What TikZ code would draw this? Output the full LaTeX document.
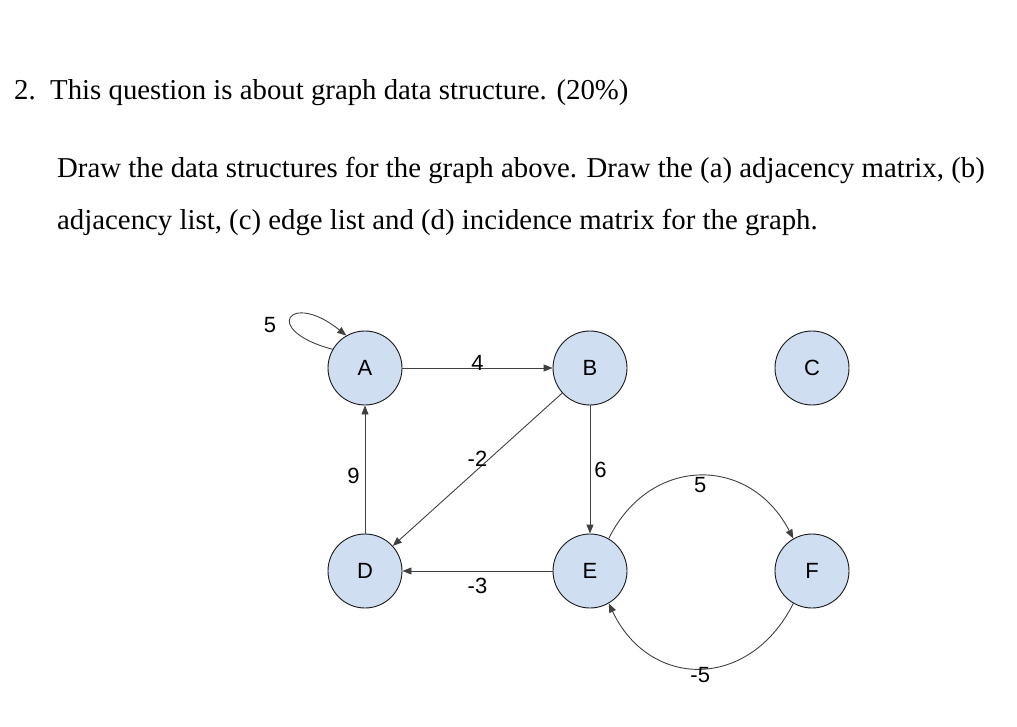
\documentclass[tikz,border=0pt]{standalone}
\usepackage{fontspec}
\setmainfont{Liberation Serif}
\newfontfamily\lsans{Liberation Sans}
\usetikzlibrary{arrows.meta}
\begin{document}
\begin{tikzpicture}[x=1pt,y=-1pt,
  vtx/.style={circle,draw=black!90,line width=0.9pt,fill={rgb,255:red,207;green,222;blue,240},minimum size=74pt,inner sep=0pt,font=\lsans\fontsize{22}{22}\selectfont},
  edge/.style={draw=black!75,line width=0.9pt,-{Triangle[length=9pt,width=7pt]}},
  lbl/.style={font=\lsans\fontsize{22}{22}\selectfont,inner sep=1pt},
  txt/.style={anchor=base west,inner sep=0pt,font=\fontsize{28.8}{28.8}\selectfont}]
\useasboundingbox (0,0) rectangle (1017,727);
\node[txt] (t1) at (14,100) {2.\ \ This question is about graph data structure. (20\%)};
\node[txt] (t2) at (57,178) {Draw the data structures for the graph above. Draw the (a) adjacency matrix, (b)};
\node[txt] (t3) at (57,230) {adjacency list, (c) edge list and (d) incidence matrix for the graph.};
\node[vtx] (A) at (365,368) {A};
\node[vtx] (B) at (590,368) {B};
\node[vtx] (C) at (812,368) {C};
\node[vtx] (D) at (365,571) {D};
\node[vtx] (E) at (590,571) {E};
\node[vtx] (F) at (812,571) {F};
\draw[edge] (A) -- node[lbl,above=-4pt,pos=0.5] (l4) {4} (B);
\draw[edge] (D) -- node[lbl,left=4pt,pos=0.45] (l9) {9} (A);
\draw[edge] (B) -- node[lbl,above=2pt,pos=0.5] (l2) {-2} (D);
\draw[edge] (B) -- node[lbl,right=3pt,pos=0.5] (l6) {6} (E);
\draw[edge] (E) -- node[lbl,below=6pt] (l3) {-3} (D);
\draw[edge] (E.60) .. controls (650,455) and (750,455) .. node[lbl,below=0pt] (l5) {5} (F.120);
\draw[edge] (F.-120) .. controls (750,690) and (650,690) .. node[lbl,below=-2pt] (lm5) {-5} (E.-60);
\draw[edge] (A.150) .. controls (260,330) and (290,290) .. (A.120);
\node[lbl] (lA) at (270,325) {5};
\end{tikzpicture}
\end{document}
